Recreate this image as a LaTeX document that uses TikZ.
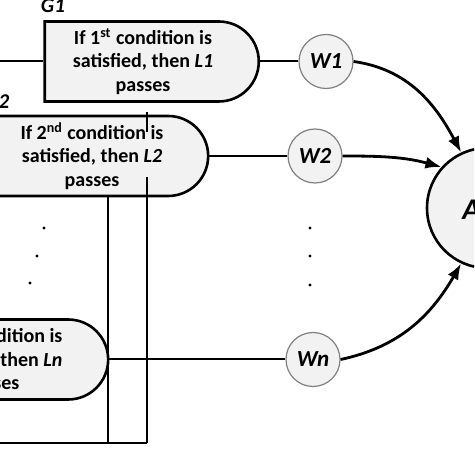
\documentclass[tikz,border=0pt]{standalone}
\usepackage{fontspec}
\setmainfont{Carlito}
\usetikzlibrary{arrows.meta,%
		calc,%
		positioning,%
		shapes.misc}
\definecolor{boxgray}{RGB}{242,242,242}

\begin{document}
\begin{tikzpicture}[x=0.5pt,y=0.5pt,font=\bfseries\fontsize{10}{11.75}\selectfont,
  gatebox/.style={rounded rectangle,rounded rectangle left arc=none,draw,line width=1.3pt,
    fill=boxgray,minimum width=107pt,minimum height=40pt,align=center,inner sep=0pt},
  wnode/.style={circle,draw=gray,line width=0.6pt,fill=boxgray,minimum size=27pt,inner sep=0pt,
    font=\bfseries\itshape\fontsize{11.5}{12}\selectfont},
  glabel/.style={font=\bfseries\itshape\fontsize{10.5}{12}\selectfont,inner sep=0pt},
  wire/.style={line width=1pt},
  flow/.style={line width=1.4pt,-{Latex[length=8pt,width=6pt]}},
  dot/.style={fill=black}]

  \useasboundingbox (0,0) rectangle (474,474);%la cornice
  \clip (0,0) rectangle (474,474);

  \node[gatebox] (G1) at (143,412.5) {If 1\textsuperscript{st} condition is\\satisfied, then \textit{L1}\\passes};%la porta G1
  \node[gatebox] (G2) at (92,318) {If 2\textsuperscript{nd} condition is\\satisfied, then \textit{L2}\\passes};%la porta G2
  \node[gatebox] (Gn) at (-8,114.5) {If n\textsuperscript{th} condition is\\satisfied, then \textit{Ln}\\passes};%la porta Gn
  \node[glabel,anchor=base west] (labG1) at ($(G1.north west)+(-3,7.5)$) {G1};
  \node[glabel,anchor=base west] (labG2) at ($(G2.north west)+(-8,6)$) {G2};

  \node[wnode] (W1) at (326,412.5) {W1};%i pesi
  \node[wnode] (W2) at (315,318) {W2};
  \node[wnode] (Wn) at (313,114.5) {Wn};
  \node[circle,draw,line width=1.3pt,fill=boxgray,minimum size=60pt] (adder) at (487,266) {};
  \node[glabel,font=\bfseries\itshape\fontsize{15}{16}\selectfont,anchor=west] (labA) at (462,264) {A};

  \coordinate (in1) at (-20,412.5);%ingresso di G1
  \coordinate (t1) at (147,362);%linea verticale destra
  \coordinate (t2) at (147,342);
  \coordinate (t3) at (147,297);
  \coordinate (t4) at (147,31);
  \coordinate (b1) at (-20,31);%linea di fondo
  \coordinate (v1) at (G2.south -| 108,0);%linea verticale sinistra
  \coordinate (v2) at (108,31);

  \draw[wire] (in1) -- (G1.west);
  \draw[wire] (G1.east) -- (W1.west);
  \draw[wire] (G2.east) -- (W2.west);
  \draw[wire] (Gn.east) -- (Wn.west);
  \draw[wire] (t1) -- (t2);
  \draw[wire] (t3) -- (t4);
  \draw[wire] (v1) -- (v2);
  \draw[wire,line width=1.3pt] (b1) -- (t4);

  \draw[flow] (W1.east) to[out=-8,in=118] (adder.115);
  \draw[flow] (W2.east) to[out=0,in=165] (adder.138);
  \draw[flow] (Wn.east) to[out=12,in=240] (adder.245);

  \foreach \x/\y in {44/246,37/218,30/191,310/246,310/218,310/189}
    \fill[dot] (\x,\y) circle (1.6);%i puntini
\end{tikzpicture}
\end{document}
